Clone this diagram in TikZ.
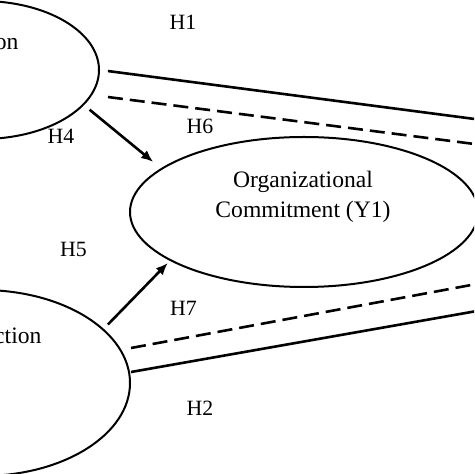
\documentclass[tikz,border=0pt]{standalone}
\usepackage{fontspec}
\setmainfont{Liberation Serif}
\usetikzlibrary{shapes.geometric,arrows.meta}
\def\lw{1pt}
\def\pathw{1.3pt}
\def\gap{4pt}
\tikzset{
  construct/.style={ellipse, draw, line width=\lw, inner sep=0pt},
  ctext/.style={font=\fontsize{11.8}{15}\selectfont, align=center},
  hyplabel/.style={font=\fontsize{10.9}{12}\selectfont},
  direct/.style={line width=\pathw},
  mediated/.style={line width=\pathw, dash pattern=on 7.5pt off 3.5pt},
  effect/.style={-{Latex[length=6pt,width=5pt]}, line width=1.3pt},
}

\begin{document}
\begin{tikzpicture}[x=0.5pt,y=-0.5pt]
\useasboundingbox (0,0) rectangle (474,474);
\clip (0,0) rectangle (474,474);

% Constructs
\node[construct, minimum width=117pt, minimum height=69pt] (X1) at (-18,70) {};
\node[construct, minimum width=148pt, minimum height=93pt] (X2) at (-18,383) {};
\node[construct, minimum width=174pt, minimum height=75pt] (Y1) at (304,212) {};
\node[ctext, anchor=base east] (X1text) at (25.5,50) {ion};
\node[ctext, anchor=base east] (X2text) at (48.5,343.5) {action};
\node[ctext] (Y1text) at (303,197) {Organizational\\Commitment (Y1)};

% Ends of the paths running off to the right
\coordinate (Y2a) at (490,121);
\coordinate (Y2b) at (490,146);
\coordinate (Y2c) at (490,281.5);
\coordinate (Y2d) at (490,308.7);

% Paths
\draw[direct, shorten <=\gap] (X1.east) -- (Y2a); % H1
\draw[mediated, shorten <=\gap] ([yshift=-13pt]X1.east) -- (Y2b); % H6
\draw[mediated] ([yshift=17.5pt]X2.east) -- (Y2c); % H7
\draw[direct] ([yshift=5.5pt]X2.east) -- (Y2d); % H2
\draw[effect, shorten <=3.6pt, shorten >=5pt] (X1.-19.4) -- (Y1.163.4); % H4
\draw[effect, shorten <=3pt, shorten >=1.5pt] (X2.24) -- (Y1.200.3); % H5

% Labels
\node[hyplabel] (H1) at (183,22) {H1};
\node[hyplabel] (H6) at (200,126) {H6};
\node[hyplabel] (H4) at (61,136) {H4};
\node[hyplabel] (H5) at (73.5,249) {H5};
\node[hyplabel] (H7) at (183.5,308) {H7};
\node[hyplabel] (H2) at (200,408.5) {H2};

\end{tikzpicture}
\end{document}
